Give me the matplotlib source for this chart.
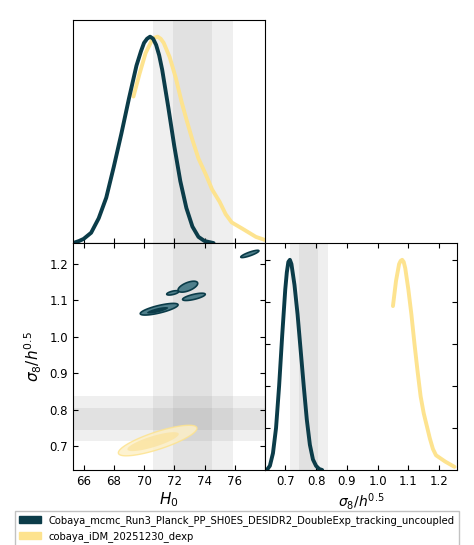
import numpy as np
import matplotlib
matplotlib.use("Agg")
import matplotlib.pyplot as plt
from matplotlib.patches import Patch

labels = ["Cobaya_mcmc_Run3_Planck_PP_SH0ES_DESIDR2_DoubleExp_tracking_uncoupled",
          "cobaya_iDM_20251230_dexp"]
dark = "#0b3c49"; teal = "#4f7f8b"; yel = "#fde38f"; yel_in = "#fbe3a0"

h0_dark_x = [65.3,65.7,66,66.5,67,67.5,68,68.5,69,69.5,69.8,70,70.2,70.4,70.6,70.8,71.0,71.2,71.6,72,72.4,72.8,73.2,73.6,74,74.6]
h0_dark_y = [0.0,0.01,0.02,0.05,0.12,0.22,0.37,0.53,0.70,0.86,0.93,0.97,0.99,1.0,0.99,0.96,0.91,0.84,0.66,0.47,0.30,0.17,0.08,0.03,0.01,0.0]
h0_yel_x = [69.3,69.7,70.1,70.5,70.7,70.9,71.1,71.3,71.7,72.1,72.5,72.8,73.2,73.6,74.1,74.5,75.0,75.4,75.8,76.5,77.4,78.0]
h0_yel_y = [0.71,0.82,0.92,0.98,0.995,1.0,0.99,0.97,0.90,0.80,0.68,0.60,0.50,0.41,0.33,0.26,0.20,0.14,0.10,0.07,0.03,0.015]
s8_dark_x = [0.64,0.65,0.66,0.67,0.68,0.69,0.70,0.705,0.71,0.715,0.72,0.73,0.74,0.75,0.76,0.77,0.78,0.79,0.80,0.81,0.82]
s8_dark_y = [0,0.02,0.08,0.2,0.4,0.64,0.86,0.94,0.99,1.0,0.98,0.88,0.74,0.57,0.40,0.24,0.12,0.05,0.02,0.005,0]
s8_yel_x = [1.05,1.06,1.07,1.075,1.08,1.085,1.09,1.10,1.11,1.12,1.13,1.14,1.15,1.16,1.17,1.18,1.19,1.20,1.22,1.25]
s8_yel_y = [0.78,0.9,0.98,0.995,1.0,0.99,0.96,0.86,0.74,0.6,0.47,0.35,0.27,0.21,0.15,0.1,0.07,0.06,0.04,0.015]

# ellipses: (cx, cy, sx, sy, rho)
dark_blobs = [(71.0,1.076,1.25,0.016,0.75),(71.9,1.121,0.4,0.006,0.6),(72.9,1.138,0.65,0.015,0.6),
              (73.3,1.110,0.75,0.010,0.7),(77.0,1.228,0.6,0.010,0.85)]
dark_inner = [(70.9,1.073,0.7,0.009,0.75)]
yel_outer = [(70.9,0.715,2.6,0.042,0.8)]
yel_inner = [(70.6,0.712,1.7,0.026,0.8)]

h0_bands = [(70.6,75.9),(71.9,74.5)]
s8_bands = [(0.715,0.838),(0.745,0.805)]

def ell(c):
    cx, cy, sx, sy, r = c
    t = np.linspace(0, 2*np.pi, 200)
    return cx+sx*np.cos(t), cy+sy*(r*np.cos(t)+np.sqrt(1-r*r)*np.sin(t))

fig = plt.figure(figsize=(4.74,5.45), dpi=100)
L, W = 0.154, 0.405
axT = fig.add_axes([L,0.554,W,0.409])
axB = fig.add_axes([L,0.1376,W,0.4165])
axR = fig.add_axes([L+W,0.1376,W,0.4165])
h0lim = (65.3,78.0); slim = (0.634,1.258)

for ax in (axT, axB):
    for lo,hi in h0_bands:
        ax.axvspan(lo,hi,color="0.5",alpha=0.12,lw=0)
for lo,hi in s8_bands:
    axB.axhspan(lo,hi,color="0.5",alpha=0.12,lw=0)
    axR.axvspan(lo,hi,color="0.5",alpha=0.12,lw=0)

kw = dict(lw=2.8, solid_joinstyle="round", solid_capstyle="round")
axT.plot(h0_yel_x,h0_yel_y,color=yel,**kw)
axT.plot(h0_dark_x,h0_dark_y,color=dark,**kw)
axR.plot(s8_yel_x,s8_yel_y,color=yel,**kw)
axR.plot(s8_dark_x,s8_dark_y,color=dark,**kw)

for c in yel_outer:
    x,y = ell(c); axB.fill(x,y,fc="#fdf0c8",alpha=0.85,ec=yel,lw=1)
for c in yel_inner:
    x,y = ell(c); axB.fill(x,y,color=yel_in,alpha=0.8,lw=0)
for c in dark_blobs:
    x,y = ell(c); axB.fill(x,y,fc=teal,ec=dark,lw=1.2)
for c in dark_inner:
    x,y = ell(c); axB.fill(x,y,fc=dark,lw=0)

axT.set_xlim(*h0lim); axT.set_ylim(0,1.08)
axB.set_xlim(*h0lim); axB.set_ylim(*slim)
axR.set_xlim(*slim); axR.set_ylim(0,1.08)
for ax in (axT,axB,axR):
    ax.tick_params(direction="in",top=True,right=True,labelsize=8.5)
axT.set_yticks([]); axT.set_xticks([66,68,70,72,74,76]); axT.set_xticklabels([])
axT.tick_params(top=False)
axB.set_xticks([66,68,70,72,74,76]); axB.set_yticks([0.7,0.8,0.9,1.0,1.1,1.2])
axR.set_xticks([0.7,0.8,0.9,1.0,1.1,1.2]); axR.set_yticks([0.2,0.4,0.6,0.8,1.0]); axR.set_yticklabels([])
axB.set_xlabel(r"$H_0$",fontsize=11,labelpad=2)
axB.set_ylabel(r"$\sigma_8/h^{0.5}$",fontsize=11)
axR.set_xlabel(r"$\sigma_8/h^{0.5}$",fontsize=10,labelpad=2)

fig.legend(handles=[Patch(color=dark,label=labels[0]),Patch(color=yel,label=labels[1])],
           loc="lower center",bbox_to_anchor=(0.5,-0.005),fontsize=7.2,frameon=True,
           fancybox=False,edgecolor="0.7",borderaxespad=0.2,handlelength=2.2)
fig.savefig("out.png",dpi=100)
